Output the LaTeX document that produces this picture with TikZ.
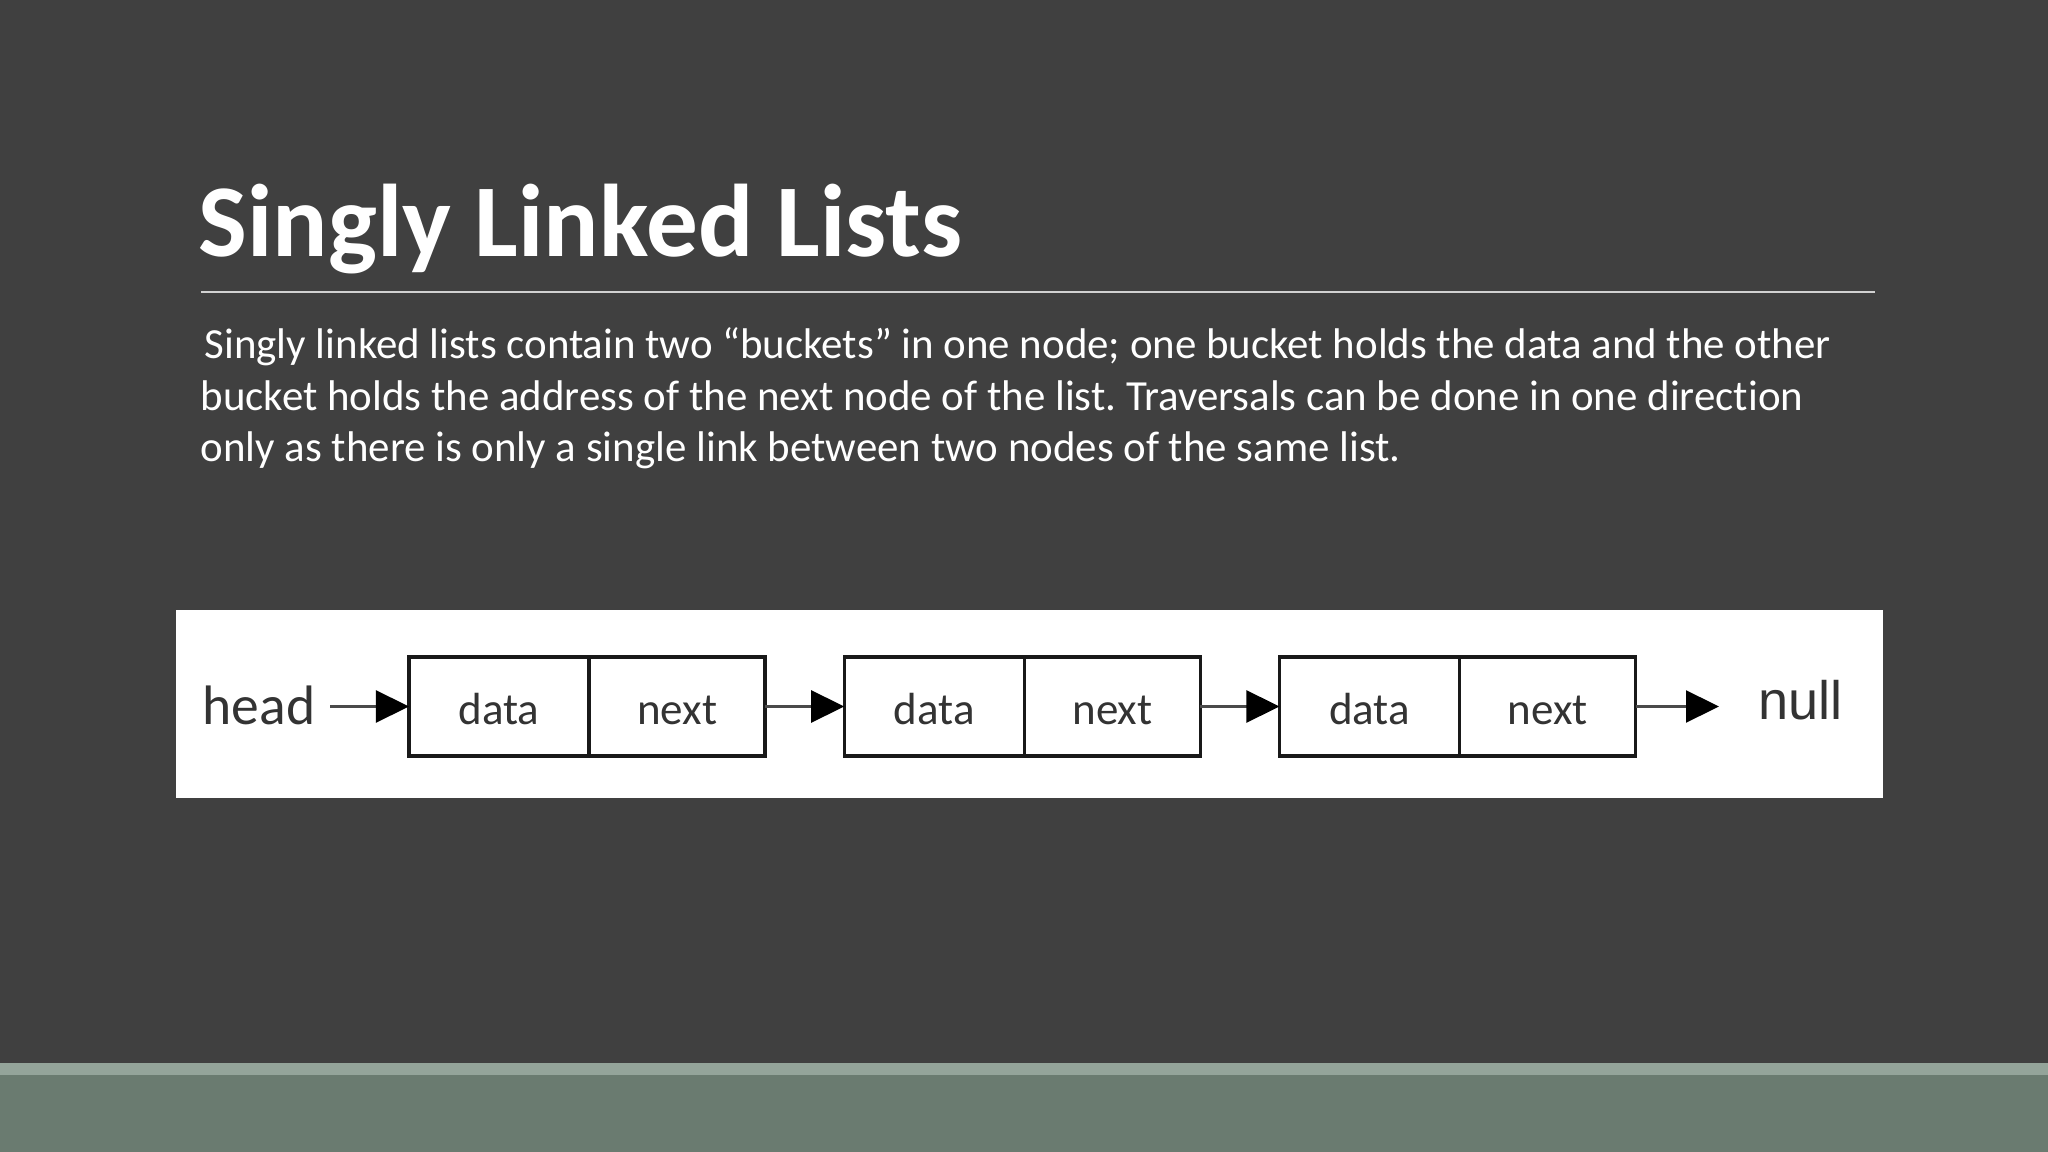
\documentclass[tikz,border=0pt]{standalone}
\usepackage{fontspec}
\setmainfont{Carlito}[Ligatures=NoCommon]
\newfontfamily\arialish{Liberation Sans}
\usepackage{xcolor}
\usepackage{tikz}
\usetikzlibrary{arrows.meta}
\usetikzlibrary{positioning}
\frenchspacing

\definecolor{slidebg}{HTML}{404040}
\definecolor{rulegray}{HTML}{D2D2D2}
\definecolor{stripgreen}{HTML}{94A49A}
\definecolor{footgreen}{HTML}{6A7B70}
\definecolor{linkgray}{HTML}{4A4A4A}

\tikzset{
  cell/.style={draw=black!90, line width=0.035cm, outer sep=0pt, inner sep=0pt,
    minimum height=0.99cm, text height=0.35cm, text depth=0cm, text=black!80,
    font=\fontsize{12.8pt}{15pt}\selectfont},
  datacell/.style={cell, minimum width=1.8cm},
  nextcell/.style={cell, minimum width=1.76cm},
  link/.style={draw=linkgray, line width=0.022cm, -{Triangle[length=0.33cm,width=0.32cm,color=black]}}
}

\begin{document}
\begin{tikzpicture}[x=0.01cm,y=-0.01cm]
\useasboundingbox (0,0) rectangle (2048,1152);
%%\draw[step=100,color=white!30,dotted] (0,0) grid (2048,1152);
\fill[slidebg] (0,0) rectangle (2048,1152);
\fill[stripgreen] (0,1063) rectangle (2048,1075);
\fill[footgreen] (0,1075) rectangle (2048,1152);

% title and text
\node[anchor=base west, inner sep=0pt, text=white, font=\fontsize{29.35pt}{34pt}\bfseries] (title) at (198,257) {Singly Linked Lists};
\draw[rulegray, line width=0.02cm] (201,292) -- (1875,292);
\node[anchor=base west, inner sep=0pt, text=white, align=left, font=\fontsize{12.2pt}{14.68pt}\selectfont] (body) at (200,462)
  {\hspace*{0.04cm}Singly linked lists contain two “buckets” in one node; one bucket holds the data and the other\\
   bucket holds the address of the next node of the list. Traversals can be done in one direction\\
   only as there is only a single link between two nodes of the same list.};

% the list
\fill[white] (176,610) rectangle (1883,798);
\node[datacell, anchor=west] (d1) at (409,706.5) {data};
\node[nextcell, right=0cm of d1] (n1) {next};
\node[datacell, right=0.79cm of n1] (d2) {data};
\node[nextcell, right=0cm of d2] (n2) {next};
\node[datacell, right=0.79cm of n2] (d3) {data};
\node[nextcell, right=0cm of d3] (n3) {next};
\node[anchor=base east, inner xsep=0.14cm, inner ysep=0pt, text=black!80, font=\fontsize{15.8pt}{18pt}\selectfont] (head) at (330,725) {head};
\node[anchor=base west, inner xsep=0.39cm, inner ysep=0pt, text=black!80, font=\fontsize{15.4pt}{18pt}\arialish] (null) at (1719,719) {null};

\draw[link] (head.east |- d1.west) -- (d1.west);
\draw[link] (n1.east) -- (d2.west);
\draw[link] (n2.east) -- (d3.west);
\draw[link] (n3.east) -- (null.west |- n3.east);
\end{tikzpicture}
\end{document}
